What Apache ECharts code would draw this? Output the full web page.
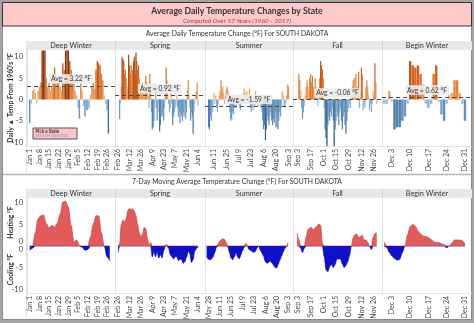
<!DOCTYPE html>
<html><head><meta charset="utf-8">
<script src="https://cdn.jsdelivr.net/npm/echarts@6/dist/echarts.min.js"></script>
<style>html,body{margin:0;padding:0;background:#a4a4a4;overflow:hidden}#c{width:474px;height:323px}</style>
</head><body><div id="c"></div>
<script>
// ---------- data ----------
const seasons = ['Deep Winter', 'Spring', 'Summer', 'Fall', 'Begin Winter'];
const monthNames = ['Jan','Feb','Mar','Apr','May','Jun','Jul','Aug','Sep','Oct','Nov','Dec'];
const avgValues = [3.22, 0.92, -1.59, -0.06, 0.62];
// day index: 0 = Jan 1
const dailyStart = [0, 58, 155, 246, 333];
const dwDaily = [-5.5,-1,2,2.5,1.5,-0.8,2,3,4,11.5,11.5,11.5,5,3,4,2,3,6,7.5,5,4,5,3,2,8.5,7,11.5,11.5,11.5,9,7,5,4,2,1,-2,-4.5,4.5,2,-1.5,-4,-2.5,-2.5,-2,1,3,4,2.5,7,9,8.5,8,6,4.5,1,-1,-2.5,-8];
const spDaily = [-4.6,-1,3,10,9.5,9,6,7,5,2,3,10.5,8,6,8,4,7,9,10,6,11,9,7,8,5,3,2,3,4,2,1,3,5.5,4,2,1,
  -2,6,3,-3,-7,-6.5,-5,-2,3,-2,-5,-3,-1,-7.5,-6,-4,-3,-4,-5,-2,2,7.5,4.5,1,-1,-3,-2,2,-1,-6,-4,-3,-2,-1.5,1,-2,-4,-3,-5.5,-4,-3.5,-5,-3,-4,-2,-4.5,-3,2,4.5,1,-2,-5,-3,-4,-8,-3,-1,1,2,4,-1.5];
const suDaily = [-6.5,-7,-4,-5,-3,-2,1.5,-1,1,-2,-3,-1,1,2,4.5,2.5,3,1.5,-1,1,2.5,3,2,1,-3,-5,-4.5,-3,-3.5,-2,1,-2,-1,1,-1,-2,-2.5,-1,1,-1,2.5,1.5,-1,2,1,-1,2.5,-2,-3,-2,-2.5,-1,-1.5,2,1,-1,-1.5,-1,1,-2,-3,-5,-7,-6,-9.5,-7,-4,-5,-6,-4,-3,-5,-6,-4.5,-5.5,-3,-6.5,-4,-7,-5,-3,-4,-2,2,1,-1.5,-2,-1,1,3.5,3];
const faDaily = [6,4.5,2,-2,-4.5,-3,-1.5,1,3,4.5,3,2,5,6,4,5.5,3,2,5,3,2,-1.5,2,5,9,8,7,5,-2,-7,-9,-11,-6,-4,-5,-3,-4,-2,-5,-11,-7,-5,-3,-4,-6,-3,-2,-5,-7,-4,-3,-6,-8,-5,-3,-2,-1,-2,1,3,4.5,5,2,6,1,3,6.5,-2,2,7.5,6,-2.5,-1,-2,3,4.5,3,1,-2.5,-1,-3,-1,2,1,8.5,4,-1];
const bwDaily = [-1,-1,2,-0.5,-7,-6.5,-6.5,-5,-4,-1,9,8,7.5,8,6,3.5,-1,-2,-1,6,8,-0.5,-3.5,-5,-1,1,1.5,4.5,4.5,1.5,-1,-5];
// 7-day moving average (read every maStep days from maStart)
const maStart = [0, 56, 145, 244, 333];
const maStep = [2, 2, 2, 2, 1];
const maDW = [-1,-0.5,3,6.3,7,7.2,5.2,4.2,4.8,4.4,5.3,7.3,10.2,10.4,9,4.8,1,1.4,0.1,-0.3,-1,-0.8,2,5,7,7,3,0,-2.5,-3.4];
const maSP = [-1.5,0.5,5,6,5.5,6.3,8.2,8.7,8.5,8.6,8.1,7,5,3,2.2,2.7,4.3,4,1.8,0.2,0.8,-2.5,-1.2,-2.5,-1.3,-2.8,-2,-2.8,-1,0.2,0.3,-0.5,-2,-2.5,-3,-2.5,-2.5,-3.4,-3,-3.2,-4,-3.6,-2.6,-1.2,-1.8,-3.8,-3.2,-1.2,-0.6,0];
const maSU = [-2.5,-3,-3.2,-3,-2.5,-1.5,-0.3,0.4,1.1,1.5,1.7,1.5,0.8,-0.1,-1.5,-2.8,-3.2,-2.5,-1.5,-2.5,-3,-2.1,-1.1,-0.3,0.6,0.2,-0.8,-1,-1.3,-1.5,-1.2,-0.4,0,-1,-1.7,-2.4,-3.6,-4,-3.8,-3.5,-3.9,-4.4,-5,-5.1,-4.2,-3.2,-2.3,-1.4,-0.6,0,0.8];
const maFA = [3,1.5,-0.5,-1.5,-0.5,2,3.8,4.2,4.3,3.7,4.2,4.6,5.1,4.8,0.5,-2.5,-5.5,-6,-4.8,-4.3,-5,-4.3,-3,-3,-3,-4.2,-5,-4.5,-3.6,-2.2,0,1.9,2.7,2.7,2,2.2,2.5,1.4,1.4,0.9,0,-0.8,2,2.9,3];
const maBW = [1,-0.3,-1.5,-2.3,-2.9,-3.3,-3.1,-1.5,0,2.6,4.5,5,4.6,3.5,2.8,2.3,2.2,2,1.5,1,0.8,0.8,0.5,0.3,-0.4,0,0.7,1.4,1.4,1.4,1.2,0.5];
// tick positions (day index)
const topTicks = [[0,7,14,21,28,35,42,49,56],[56,70,84,98,112,126,140,154],[161,175,189,203,217,231,245],[245,259,273,287,301,315,329],[336,343,350,357,364]];
const botTicks = [[0,7,14,21,28,35,42,49,56],[56,70,84,98,112,126,140,154],[147,161,175,189,203,217,231,245],[245,259,273,287,301,315,329],[336,343,350,357,364]];
const yTicksTop = [-10,-5,0,5,10];
const yTicksHeat = [0,5,10];
const yTicksCool = [-10,-5,0];

// ---------- layout ----------
const dailyAll = [dwDaily, spDaily, suDaily, faDaily, bwDaily];
const maAll = [maDW, maSP, maSU, maFA, maBW];
const px = [27, 115, 205, 293, 382, 472];
const topRange = [[-2,61.8],[52.3,162.6],[151,250],[239.5,337.8],[332.2,366.7]];
const botRange = [[-2,61.8],[52.3,162.6],[143,251],[239.5,337.8],[332.2,366.7]];
const barW = [1.4, 1.2, 1.2, 1.2, 2.4];
const FONT = 'Lato, "Open Sans", sans-serif';

function fmtDay(d){
  const dt = new Date(Date.UTC(2017, 0, 1 + Math.round(d)));
  return monthNames[dt.getUTCMonth()] + ' ' + dt.getUTCDate();
}
function hex(c){return [parseInt(c.slice(1,3),16),parseInt(c.slice(3,5),16),parseInt(c.slice(5,7),16)];}
function ramp(stops, v){
  for(let i=1;i<stops.length;i++){
    if(v<=stops[i][0] || i===stops.length-1){
      const a=stops[i-1], b=stops[i];
      const t=Math.max(0,Math.min(1,(v-a[0])/(b[0]-a[0])));
      const ca=hex(a[1]), cb=hex(b[1]);
      return 'rgb('+ca.map((x,k)=>Math.round(x+(cb[k]-x)*t)).join(',')+')';
    }
  }
}
const posStops=[[0,'#efb682'],[4,'#e28a40'],[8,'#d2621b'],[11.5,'#93370b']];
const negStops=[[0,'#a9c5de'],[4,'#6c99c4'],[8,'#40709f'],[11.5,'#214c78']];
function barColor(p){const v=p.value[1];return v>=0?ramp(posStops,v):ramp(negStops,-v);}

const grid=[], xAxis=[], yAxis=[], series=[];
const lineC = '#e2e2e2';
for(let i=0;i<5;i++){
  grid.push({left:px[i], width:px[i+1]-px[i], top:50, height:96});
}
for(let i=0;i<5;i++){
  grid.push({left:px[i], width:px[i+1]-px[i], top:199, height:47});
}
for(let i=0;i<5;i++){
  grid.push({left:px[i], width:px[i+1]-px[i], top:246, height:47});
}
const tickLabel = (vals)=>({customValues:vals, rotate:90, formatter:fmtDay, fontSize:7, color:'#444', margin:3, fontFamily:FONT});
const yName = {fontSize:6.8, fontWeight:'bold', color:'#333', fontFamily:FONT};
for(let i=0;i<5;i++){
  xAxis.push({type:'value', gridIndex:i, min:topRange[i][0], max:topRange[i][1],
    axisLine:{show:true,onZero:false,lineStyle:{color:lineC}}, axisTick:{show:false}, splitLine:{show:false},
    axisLabel:tickLabel(topTicks[i])});
  yAxis.push({type:'value', gridIndex:i, min:-10.9, max:11.6,
    axisLine:{show:true,onZero:false,lineStyle:{color:lineC}}, axisTick:{show:false}, splitLine:{show:false},
    axisLabel: i===0?{customValues:yTicksTop, fontSize:7.5, color:'#444', margin:4, fontFamily:FONT}:{show:false},
    name: i===0?"Daily \u25B2 Temp From 1960's \u00B0F":'', nameLocation:'middle', nameGap:13, nameRotate:90,
    nameMoveOverlap:false, nameTextStyle:yName});
  series.push({type:'bar', xAxisIndex:i, yAxisIndex:i, barWidth:barW[i],
    data: dailyAll[i].map((v,k)=>[dailyStart[i]+k, v]),
    itemStyle:{color:barColor},
    markLine:{silent:true, symbol:'none', animation:false,
      lineStyle:{type:[4,3], color:'#4a4a4a', width:1},
      label:{show:true, position:'insideMiddleTop', distance:2,
        formatter:'Avg = '+avgValues[i].toFixed(2)+' \u00B0F', fontSize:6.7, color:'#333', fontFamily:FONT,
        backgroundColor:'rgba(234,234,234,0.92)', padding:[1.5,2,1,2]},
      data:[{yAxis:avgValues[i]}]}});
}
for(let i=0;i<5;i++){
  xAxis.push({type:'value', gridIndex:5+i, min:botRange[i][0], max:botRange[i][1], show:false});
  yAxis.push({type:'value', gridIndex:5+i, min:0, max:10.9,
    axisLine:{show:true,onZero:false,lineStyle:{color:lineC}}, axisTick:{show:false}, splitLine:{show:false},
    axisLabel: i===0?{customValues:yTicksHeat, fontSize:7.5, color:'#444', margin:4, fontFamily:FONT, verticalAlignMinLabel:'bottom'}:{show:false},
    name: i===0?'Heating \u00B0F':'', nameLocation:'middle', nameGap:13, nameRotate:90,
    nameMoveOverlap:false, nameTextStyle:yName});
  series.push({type:'line', xAxisIndex:5+i, yAxisIndex:5+i, symbol:'none', smooth:0.3, smoothMonotone:'x',
    data: maAll[i].map((v,k)=>[maStart[i]+k*maStep[i], Math.max(v,0)]),
    lineStyle:{width:0.7,color:'#c84444'}, areaStyle:{color:'#e25b5b',opacity:1}});
}
for(let i=0;i<5;i++){
  xAxis.push({type:'value', gridIndex:10+i, min:botRange[i][0], max:botRange[i][1],
    axisLine:{show:true,onZero:false,lineStyle:{color:lineC}}, axisTick:{show:false}, splitLine:{show:false},
    axisLabel:tickLabel(botTicks[i])});
  yAxis.push({type:'value', gridIndex:10+i, min:-10.9, max:0,
    axisLine:{show:true,onZero:false,lineStyle:{color:lineC}}, axisTick:{show:false}, splitLine:{show:false},
    axisLabel: i===0?{customValues:yTicksCool, fontSize:7.5, color:'#444', margin:4, fontFamily:FONT, verticalAlignMaxLabel:'top'}:{show:false},
    name: i===0?'Cooling \u00B0F':'', nameLocation:'middle', nameGap:13, nameRotate:90,
    nameMoveOverlap:false, nameTextStyle:yName});
  series.push({type:'line', xAxisIndex:10+i, yAxisIndex:10+i, symbol:'none', smooth:0.3, smoothMonotone:'x',
    data: maAll[i].map((v,k)=>[maStart[i]+k*maStep[i], Math.min(v,0)]),
    lineStyle:{width:0.7,color:'#0a0aa8'}, areaStyle:{color:'#1010cc',opacity:1}});
}

// graphic: frame, title band, headers, separators, state picker
const g = [];
g.push({type:'rect', z:-10, shape:{x:2.5,y:2.5,width:469,height:317}, style:{fill:'#ffffff', stroke:'#8a8a8a', lineWidth:1}});
g.push({type:'rect', z:-9, shape:{x:2.5,y:2.5,width:469,height:23.5}, style:{fill:'#ffc9c9', stroke:'#333333', lineWidth:1}});
g.push({type:'line', z:-9, shape:{x1:3,y1:174.5,x2:471,y2:174.5}, style:{stroke:'#b5b5b5', lineWidth:1.5}});
g.push({type:'line', z:-9, shape:{x1:26.5,y1:41,x2:26.5,y2:172}, style:{stroke:'#e0e0e0', lineWidth:1}});
g.push({type:'line', z:-9, shape:{x1:26.5,y1:189,x2:26.5,y2:318}, style:{stroke:'#e0e0e0', lineWidth:1}});
[41, 189].forEach(function(hy){
  g.push({type:'rect', z:-8, shape:{x:27,y:hy,width:445,height:9}, style:{fill:'#e8e8e8'}});
  for(let i=0;i<5;i++){
    if(i>0) g.push({type:'line', z:-7, shape:{x1:px[i]+0.5,y1:hy,x2:px[i]+0.5,y2:hy+9}, style:{stroke:'#d4d4d4', lineWidth:1}});
    g.push({type:'text', z:-6, style:{text:seasons[i], x:(px[i]+px[i+1])/2, y:hy+4.7, align:'center', verticalAlign:'middle',
      fontSize:7.3, fill:'#333', fontFamily:FONT}});
  }
});
g.push({type:'rect', z:50, shape:{x:33,y:128,width:44,height:11}, style:{fill:'#ffc4c9', stroke:'#555', lineWidth:1}});
g.push({type:'text', z:51, style:{text:'Pick a State', x:35.5, y:131.2, verticalAlign:'middle', fontSize:4.6, fontWeight:'bold', fill:'#333', fontFamily:FONT}});
g.push({type:'text', z:51, style:{text:'SOUTH DAKOTA', x:35.5, y:135.6, verticalAlign:'middle', fontSize:4.2, fill:'#999', fontFamily:FONT}});

const chart = echarts.init(document.getElementById('c'), null, {renderer:'canvas'});
chart.setOption({
  animation:false,
  backgroundColor:'transparent',
  textStyle:{fontFamily:FONT},
  title:[
    {text:'Average Daily Temperature Changes by State', subtext:'Computed Over 57 Years (1960 - 2017)',
     left:'center', top:5.5, padding:0, itemGap:0,
     textStyle:{fontSize:8.6, fontWeight:'bold', color:'#333', lineHeight:11, fontFamily:FONT},
     subtextStyle:{fontSize:6.5, fontStyle:'italic', color:'#a0413f', lineHeight:9, fontFamily:FONT}},
    {text:'Average Daily Temperature Change (\u00B0F) For SOUTH DAKOTA', left:'center', top:30, padding:0,
     textStyle:{fontSize:6.8, fontWeight:'normal', color:'#333', fontFamily:FONT}},
    {text:'7-Day Moving Average Temperature Change (\u00B0F) For SOUTH DAKOTA', left:'center', top:178, padding:0,
     textStyle:{fontSize:6.8, fontWeight:'normal', color:'#333', fontFamily:FONT}}
  ],
  grid:grid, xAxis:xAxis, yAxis:yAxis, series:series, graphic:g
});
</script></body></html>
